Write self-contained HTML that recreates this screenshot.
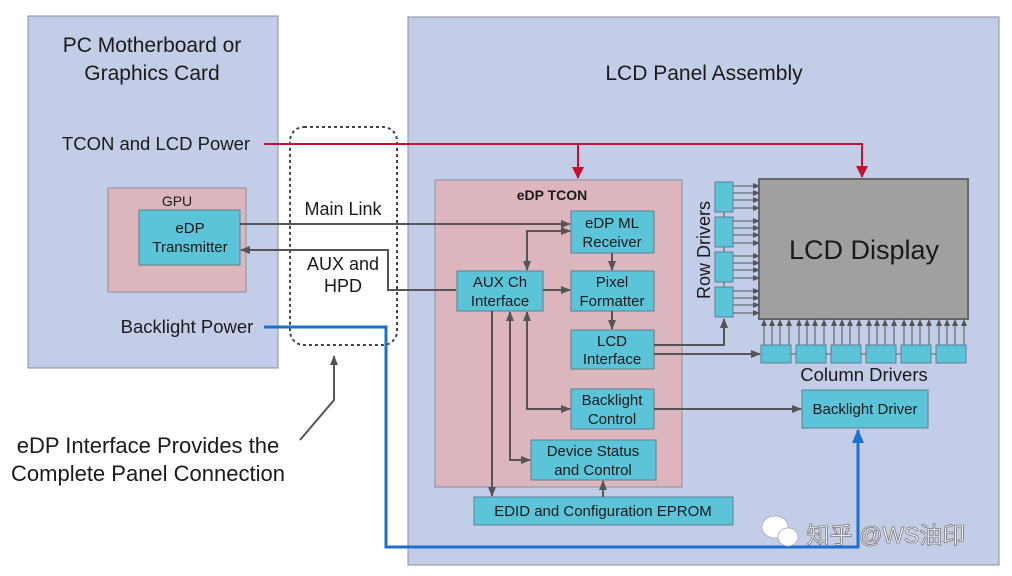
<!DOCTYPE html>
<html><head><meta charset="utf-8"><style>
html,body{margin:0;padding:0;background:#fff}
svg{display:block}
text{font-family:"Liberation Sans",Arial,sans-serif;fill:#1a1a1a}
</style></head><body>
<svg width="1012" height="576" viewBox="0 0 1012 576" xmlns="http://www.w3.org/2000/svg">
<defs>
<marker id="a" markerWidth="10" markerHeight="8" refX="9" refY="4" orient="auto" markerUnits="userSpaceOnUse"><path d="M0,0 L10,4 L0,8 z" fill="#555"/></marker>
<marker id="s" markerWidth="7" markerHeight="6" refX="6" refY="3" orient="auto" markerUnits="userSpaceOnUse"><path d="M0,0 L7,3 L0,6 z" fill="#555"/></marker>
<marker id="r" markerWidth="12" markerHeight="12" refX="11" refY="6" orient="auto" markerUnits="userSpaceOnUse"><path d="M0,0 L12,6 L0,12 z" fill="#c8102e"/></marker>
<marker id="b" markerWidth="14" markerHeight="12" refX="13" refY="6" orient="auto" markerUnits="userSpaceOnUse"><path d="M0,0 L14,6 L0,12 z" fill="#1a6fd0"/></marker>
</defs>
<rect x="28" y="16" width="250" height="352" fill="#c3cde7" stroke="#8a8f9c"/>
<rect x="408" y="17" width="591" height="548" fill="#c3cde7" stroke="#8a8f9c"/>
<rect x="290" y="127" width="107" height="218" rx="14" fill="none" stroke="#444" stroke-width="2" stroke-dasharray="3,3"/>
<text x="152" y="52" font-size="21" text-anchor="middle">PC Motherboard or</text>
<text x="152" y="80" font-size="21" text-anchor="middle">Graphics Card</text>
<text x="704" y="80" font-size="21" text-anchor="middle">LCD Panel Assembly</text>
<text x="156" y="150" font-size="18.5" text-anchor="middle">TCON and LCD Power</text>
<text x="187" y="333" font-size="18.5" text-anchor="middle">Backlight Power</text>
<text x="343" y="215" font-size="18" text-anchor="middle">Main Link</text>
<text x="343" y="270" font-size="18" text-anchor="middle">AUX and</text>
<text x="343" y="292" font-size="18" text-anchor="middle">HPD</text>
<text x="148" y="453" font-size="22" text-anchor="middle">eDP Interface Provides the</text>
<text x="148" y="481" font-size="22" text-anchor="middle">Complete Panel Connection</text>
<polyline points="300,440 334,400 334,356" fill="none" stroke="#555" stroke-width="2" marker-end="url(#a)"/>
<rect x="108" y="188" width="138" height="104" fill="#dcb5bd" stroke="#8a8f9c"/>
<text x="177" y="206" font-size="14" text-anchor="middle" fill="#5a2a2a">GPU</text>
<rect x="139" y="210" width="101" height="55" fill="#5cc4d9" stroke="#5a7f95"/>
<text x="190" y="233" font-size="15" text-anchor="middle">eDP</text>
<text x="190" y="252" font-size="15" text-anchor="middle">Transmitter</text>
<rect x="435" y="180" width="247" height="307" fill="#dcb5bd" stroke="#8a8f9c"/>
<text x="552" y="200" font-size="14" font-weight="bold" text-anchor="middle">eDP TCON</text>
<g fill="#5cc4d9" stroke="#5a7f95">
<rect x="571" y="211" width="83" height="42"/>
<rect x="457" y="271" width="86" height="40"/>
<rect x="571" y="271" width="83" height="40"/>
<rect x="571" y="330" width="83" height="39"/>
<rect x="571" y="389" width="83" height="40"/>
<rect x="531" y="440" width="125" height="40"/>
<rect x="474" y="497" width="259" height="28"/>
<rect x="802" y="390" width="126" height="38"/>
</g>
<g font-size="15" text-anchor="middle">
<text x="612" y="228">eDP ML</text><text x="612" y="247">Receiver</text>
<text x="500" y="287">AUX Ch</text><text x="500" y="306">Interface</text>
<text x="612" y="287">Pixel</text><text x="612" y="306">Formatter</text>
<text x="612" y="346">LCD</text><text x="612" y="364">Interface</text>
<text x="612" y="405">Backlight</text><text x="612" y="424">Control</text>
<text x="593" y="456">Device Status</text><text x="593" y="475">and Control</text>
<text x="603" y="516">EDID and Configuration EPROM</text>
<text x="865" y="414">Backlight Driver</text>
</g>
<rect x="759" y="179" width="209" height="140" fill="#a0a0a0" stroke="#666" stroke-width="2"/>
<text x="864" y="259" font-size="27" text-anchor="middle">LCD Display</text>
<text x="710" y="250" font-size="18" text-anchor="middle" transform="rotate(-90 710 250)">Row Drivers</text>
<text x="864" y="381" font-size="18.5" text-anchor="middle">Column Drivers</text>
<g stroke="#555" stroke-width="1" marker-end="url(#s)">
<line x1="733" y1="186" x2="759" y2="186"/><line x1="733" y1="193" x2="759" y2="193"/><line x1="733" y1="200" x2="759" y2="200"/><line x1="733" y1="208" x2="759" y2="208"/>
<line x1="733" y1="221" x2="759" y2="221"/><line x1="733" y1="228" x2="759" y2="228"/><line x1="733" y1="235" x2="759" y2="235"/><line x1="733" y1="243" x2="759" y2="243"/>
<line x1="733" y1="256" x2="759" y2="256"/><line x1="733" y1="263" x2="759" y2="263"/><line x1="733" y1="270" x2="759" y2="270"/><line x1="733" y1="278" x2="759" y2="278"/>
<line x1="733" y1="291" x2="759" y2="291"/><line x1="733" y1="298" x2="759" y2="298"/><line x1="733" y1="305" x2="759" y2="305"/><line x1="733" y1="313" x2="759" y2="313"/>
</g>
<g stroke="#555" stroke-width="1" marker-end="url(#s)">
<line x1="764" y1="345" x2="764" y2="320"/><line x1="772" y1="345" x2="772" y2="320"/><line x1="780" y1="345" x2="780" y2="320"/><line x1="789" y1="345" x2="789" y2="320"/>
<line x1="799" y1="345" x2="799" y2="320"/><line x1="807" y1="345" x2="807" y2="320"/><line x1="815" y1="345" x2="815" y2="320"/><line x1="824" y1="345" x2="824" y2="320"/>
<line x1="834" y1="345" x2="834" y2="320"/><line x1="842" y1="345" x2="842" y2="320"/><line x1="850" y1="345" x2="850" y2="320"/><line x1="859" y1="345" x2="859" y2="320"/>
<line x1="869" y1="345" x2="869" y2="320"/><line x1="877" y1="345" x2="877" y2="320"/><line x1="885" y1="345" x2="885" y2="320"/><line x1="894" y1="345" x2="894" y2="320"/>
<line x1="904" y1="345" x2="904" y2="320"/><line x1="912" y1="345" x2="912" y2="320"/><line x1="920" y1="345" x2="920" y2="320"/><line x1="929" y1="345" x2="929" y2="320"/>
<line x1="939" y1="345" x2="939" y2="320"/><line x1="947" y1="345" x2="947" y2="320"/><line x1="955" y1="345" x2="955" y2="320"/><line x1="964" y1="345" x2="964" y2="320"/>
</g>
<line x1="724" y1="182" x2="724" y2="317" stroke="#555"/>
<line x1="761" y1="354" x2="966" y2="354" stroke="#555"/>
<g fill="#5cc4d9" stroke="#5a7f95">
<rect x="715" y="182" width="18" height="30"/><rect x="715" y="217" width="18" height="30"/><rect x="715" y="252" width="18" height="30"/><rect x="715" y="287" width="18" height="30"/>
<rect x="761" y="345" width="30" height="18"/><rect x="796" y="345" width="30" height="18"/><rect x="831" y="345" width="30" height="18"/><rect x="866" y="345" width="30" height="18"/><rect x="901" y="345" width="30" height="18"/><rect x="936" y="345" width="30" height="18"/>
</g>
<g fill="none" stroke="#555" stroke-width="2">
<line x1="240" y1="224" x2="570" y2="224" marker-end="url(#a)"/>
<polyline points="456,290 388,290 388,250 241,250" marker-end="url(#a)"/>
<polyline points="527,270 527,231 570,231" marker-end="url(#a)"/>
<line x1="527" y1="240" x2="527" y2="270" marker-end="url(#a)"/>
<line x1="543" y1="290" x2="570" y2="290" marker-end="url(#a)"/>
<line x1="612" y1="253" x2="612" y2="270" marker-end="url(#a)"/>
<line x1="612" y1="311" x2="612" y2="329" marker-end="url(#a)"/>
<polyline points="654,345 724,345 724,319" marker-end="url(#a)"/>
<line x1="654" y1="354" x2="760" y2="354" marker-end="url(#a)"/>
<line x1="654" y1="409" x2="801" y2="409" marker-end="url(#a)"/>
<polyline points="570,409 527,409 527,312" marker-end="url(#a)"/>
<line x1="527" y1="409" x2="570" y2="409" marker-end="url(#a)"/>
<polyline points="530,460 510,460 510,312" marker-end="url(#a)"/>
<line x1="510" y1="460" x2="530" y2="460" marker-end="url(#a)"/>
<line x1="492" y1="311" x2="492" y2="496" marker-end="url(#a)"/>
<line x1="603" y1="497" x2="603" y2="481" marker-end="url(#a)"/>
</g>
<polyline points="264,144 862,144 862,177" fill="none" stroke="#c8102e" stroke-width="2" marker-end="url(#r)"/>
<line x1="578" y1="144" x2="578" y2="178" stroke="#c8102e" stroke-width="2" marker-end="url(#r)"/>
<polyline points="264,327 386,327 386,547 858,547 858,430" fill="none" stroke="#1a6fd0" stroke-width="3" marker-end="url(#b)"/>
<ellipse cx="775" cy="527" rx="13" ry="11" fill="#fff" stroke="#aaa" stroke-width="0.8"/>
<ellipse cx="788" cy="537" rx="10" ry="9" fill="#fff" stroke="#aaa" stroke-width="0.8"/>
<text x="886" y="543" font-size="23" text-anchor="middle" style="fill:#fff;font-family:'Liberation Sans','Noto Sans CJK SC',sans-serif" stroke="#777" stroke-width="0.8">知乎 @WS油印</text>
</svg>
</body></html>
